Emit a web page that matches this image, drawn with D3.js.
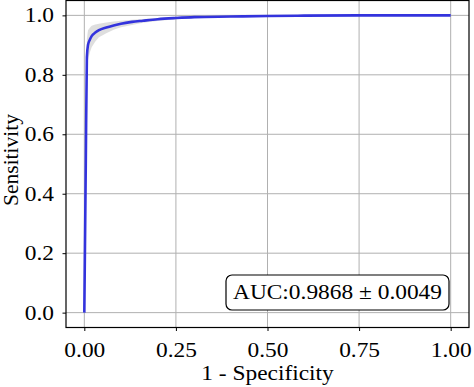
<!DOCTYPE html>
<html>
<head>
  <meta charset="UTF-8">
  <title>ROC Curve</title>
  <script src="https://d3js.org/d3.v7.min.js"></script>
  <style>
    body { margin: 0; background: #fff; }
    svg text { font-family: "Liberation Serif", "DejaVu Serif", serif; fill: #000; }
    .grid line { stroke: #b0b0b0; stroke-width: 1; }
  </style>
</head>
<body>
  <div id="chart"></div>
  <script>
    // mean ROC curve (false positive rate, true positive rate)
    const fpr = [0, 0.004, 0.007, 0.01, 0.015, 0.02, 0.03, 0.04, 0.06, 0.08, 0.1, 0.13, 0.16, 0.2, 0.25, 0.3, 0.4, 0.5, 0.6, 0.75, 0.9, 1];
    const tpr = [0, 0.5, 0.86, 0.9, 0.918, 0.93, 0.942, 0.95, 0.959, 0.966, 0.972, 0.978, 0.982, 0.987, 0.991, 0.994, 0.996, 0.998, 0.999, 1, 1, 1];
    // +/- 1 std band around the mean curve
    const bandUpper = [0, 0.58, 0.92, 0.95, 0.958, 0.965, 0.969, 0.972, 0.976, 0.979, 0.982, 0.985, 0.988, 0.991, 0.994, 0.996, 0.998, 0.999, 1, 1, 1, 1];
    const bandLower = [0, 0.42, 0.8, 0.85, 0.875, 0.893, 0.912, 0.926, 0.94, 0.952, 0.96, 0.968, 0.975, 0.981, 0.987, 0.991, 0.994, 0.997, 0.998, 1, 1, 1];
    const xTicks = [0, 0.25, 0.5, 0.75, 1.0];
    const yTicks = [0, 0.2, 0.4, 0.6, 0.8, 1.0];
    const aucText = "AUC:0.9868 \u00b1 0.0049";

    const W = 474, H = 387;
    const plot = { left: 66, right: 469, top: 0.5, bottom: 327.5 };
    const FS = 20;      // font size
    const SX = 1.17;    // the source image is stretched horizontally

    const x = d3.scaleLinear().domain([-0.05, 1.05]).range([plot.left, plot.right]);
    const y = d3.scaleLinear().domain([-0.05, 1.05]).range([plot.bottom, plot.top]);

    const svg = d3.select("#chart").append("svg")
      .attr("width", W).attr("height", H);

    // grid
    const grid = svg.append("g").attr("class", "grid");
    grid.selectAll(".gx").data(xTicks).enter().append("line")
      .attr("x1", d => x(d)).attr("x2", d => x(d))
      .attr("y1", plot.top).attr("y2", plot.bottom);
    grid.selectAll(".gy").data(yTicks).enter().append("line")
      .attr("y1", d => y(d)).attr("y2", d => y(d))
      .attr("x1", plot.left).attr("x2", plot.right);

    const pts = fpr.map((f, i) => ({ f, t: tpr[i], lo: bandLower[i], hi: bandUpper[i] }));

    svg.append("path")
      .datum(pts)
      .attr("fill", "#c8c8c8")
      .attr("fill-opacity", 0.6)
      .attr("d", d3.area().x(d => x(d.f)).y0(d => y(d.lo)).y1(d => y(d.hi)));

    svg.append("path")
      .datum(pts)
      .attr("fill", "none")
      .attr("stroke", "#3333dd")
      .attr("stroke-width", 2.6)
      .attr("stroke-linejoin", "round")
      .attr("d", d3.line().x(d => x(d.f)).y(d => y(d.t)).curve(d3.curveMonotoneX));

    // axes
    const xAxis = d3.axisBottom(x).tickValues(xTicks).tickFormat(d3.format(".2f"))
      .tickSize(3.5).tickSizeOuter(0);
    const yAxis = d3.axisLeft(y).tickValues(yTicks).tickFormat(d3.format(".1f"))
      .tickSize(3.5).tickSizeOuter(0);

    const gx = svg.append("g").attr("transform", `translate(0,${plot.bottom})`).call(xAxis);
    const gy = svg.append("g").attr("transform", `translate(${plot.left},0)`).call(yAxis);
    [gx, gy].forEach(g => {
      g.select(".domain").remove();
      g.selectAll(".tick line").attr("stroke", "#000").attr("stroke-width", 1);
      g.selectAll(".tick text").attr("font-size", FS)
        .style("font-family", "Liberation Serif, serif")
        .attr("transform", `scale(${SX},1)`);
    });
    gx.selectAll(".tick text").attr("y", 29.5).attr("dy", null);
    gy.selectAll(".tick text").attr("x", -12 / SX);

    // spines
    svg.append("rect")
      .attr("x", plot.left).attr("y", plot.top)
      .attr("width", plot.right - plot.left).attr("height", plot.bottom - plot.top)
      .attr("fill", "none").attr("stroke", "#000").attr("stroke-width", 1.2);

    // axis labels
    svg.append("g").attr("transform", `translate(${(plot.left + plot.right) / 2},380)`)
      .append("text")
      .attr("transform", `scale(${SX},1)`)
      .attr("text-anchor", "middle").attr("font-size", FS)
      .text("1 - Specificity");
    svg.append("text")
      .attr("transform", `translate(18,160) rotate(-90)`)
      .attr("text-anchor", "middle").attr("font-size", 21.5)
      .text("Sensitivity");

    // AUC annotation box
    const box = svg.append("g");
    box.append("rect")
      .attr("x", 226).attr("y", 275)
      .attr("width", 223).attr("height", 35)
      .attr("rx", 6).attr("fill", "#fff").attr("stroke", "#000").attr("stroke-width", 1.2);
    box.append("g").attr("transform", "translate(337.5,299)")
      .append("text")
      .attr("transform", `scale(${SX},1)`)
      .attr("text-anchor", "middle").attr("font-size", FS)
      .text(aucText);
  </script>
</body>
</html>
